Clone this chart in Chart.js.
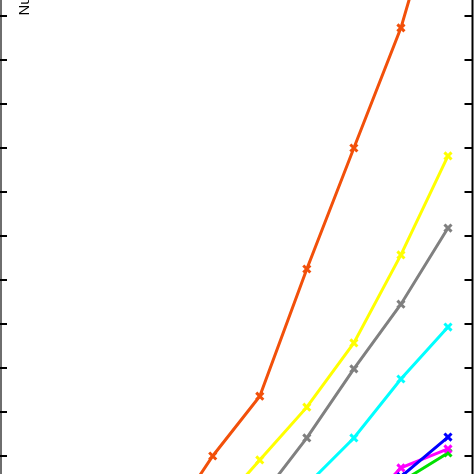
<!DOCTYPE html>
<html>
<head>
<meta charset="utf-8">
<script src="https://cdn.jsdelivr.net/npm/chart.js@4.4.1/dist/chart.umd.min.js"></script>
<style>
html,body{margin:0;padding:0;background:#fff;}
#wrap{width:474px;height:474px;}
</style>
</head>
<body>
<div id="wrap"><canvas id="c" width="474" height="474"></canvas></div>
<script>
const categories = ['1','2','3','4','5','6','7','8','9','10'];
const seriesOrange  = [-1.5, -0.8, -0.2, 0.4, 2.0, 3.36, 6.25, 9.0, 11.73, 15.4];
const seriesYellow  = [-1.2, -0.7, -0.2, 0.3, 0.7, 1.91, 3.11, 4.57, 6.57, 8.82];
const seriesGray    = [-1.0, -0.6, -0.2, 0.2, 0.6, 1.02, 2.41, 3.98, 5.45, 7.18];
const seriesCyan    = [-0.8, -0.5, -0.2, 0.1, 0.5, 0.9, 1.34, 2.41, 3.75, 4.93];
const seriesBlue    = [-0.5, -0.3, -0.1, 0.1, 0.3, 0.5, 0.8, 1.1, 1.53, 2.43];
const seriesMagenta = [-0.4, -0.2, 0.0, 0.1, 0.2, 0.3, 0.45, 0.6, 1.73, 2.16];
const seriesGreen   = [-0.5, -0.3, -0.1, 0.0, 0.1, 0.3, 0.5, 0.8, 1.41, 2.07];
const yTicks = [2,3,4,5,6,7,8,9,10,11,12];
const yMin = 1.5909, yMax = 12.3636;
const axisTitle = 'Number';

function ds(data, color){
  return {data, borderColor: color, backgroundColor: color, borderWidth: 3,
    pointStyle: 'crossRot', pointRadius: 5, pointBorderWidth: 3, pointHoverRadius: 5,
    tension: 0, fill: false, clip: false};
}

const axesPlugin = {
  id: 'axesPlugin',
  afterDraw(chart){
    const ctx = chart.ctx, y = chart.scales.y;
    ctx.save();
    ctx.lineWidth = 2;
    ctx.strokeStyle = '#6e6e6e';
    ctx.beginPath(); ctx.moveTo(1, 0); ctx.lineTo(1, 474); ctx.stroke();
    ctx.strokeStyle = '#000';
    ctx.beginPath(); ctx.moveTo(472.5, 0); ctx.lineTo(472.5, 474); ctx.stroke();
    yTicks.forEach(v => {
      const py = Math.round(y.getPixelForValue(v));
      ctx.beginPath(); ctx.moveTo(0, py); ctx.lineTo(7, py); ctx.stroke();
      ctx.beginPath(); ctx.moveTo(464.5, py); ctx.lineTo(472, py); ctx.stroke();
    });
    ctx.fillStyle = '#000';
    ctx.font = '15px "Liberation Sans", Arial, sans-serif';
    ctx.translate(28.5, 15.5);
    ctx.rotate(-Math.PI/2);
    ctx.textAlign = 'left';
    ctx.textBaseline = 'alphabetic';
    ctx.fillText(axisTitle, 0, 0);
    ctx.restore();
  }
};

new Chart(document.getElementById('c'), {
  type: 'line',
  data: {
    labels: categories,
    datasets: [
      ds(seriesBlue, '#0000ff'),
      ds(seriesMagenta, '#ff00ff'),
      ds(seriesGreen, '#00e000'),
      ds(seriesCyan, '#00ffff'),
      ds(seriesGray, '#808080'),
      ds(seriesYellow, '#ffff00'),
      ds(seriesOrange, '#f2500a')
    ]
  },
  options: {
    responsive: false,
    animation: false,
    layout: {autoPadding: false, padding: {left: 1, right: 2.5, top: 0, bottom: 0}},
    plugins: {legend: {display: false}, tooltip: {enabled: false}},
    scales: {
      x: {type: 'category', offset: true, display: false},
      y: {type: 'linear', min: yMin, max: yMax, display: false}
    }
  },
  plugins: [axesPlugin]
});
</script>
</body>
</html>
